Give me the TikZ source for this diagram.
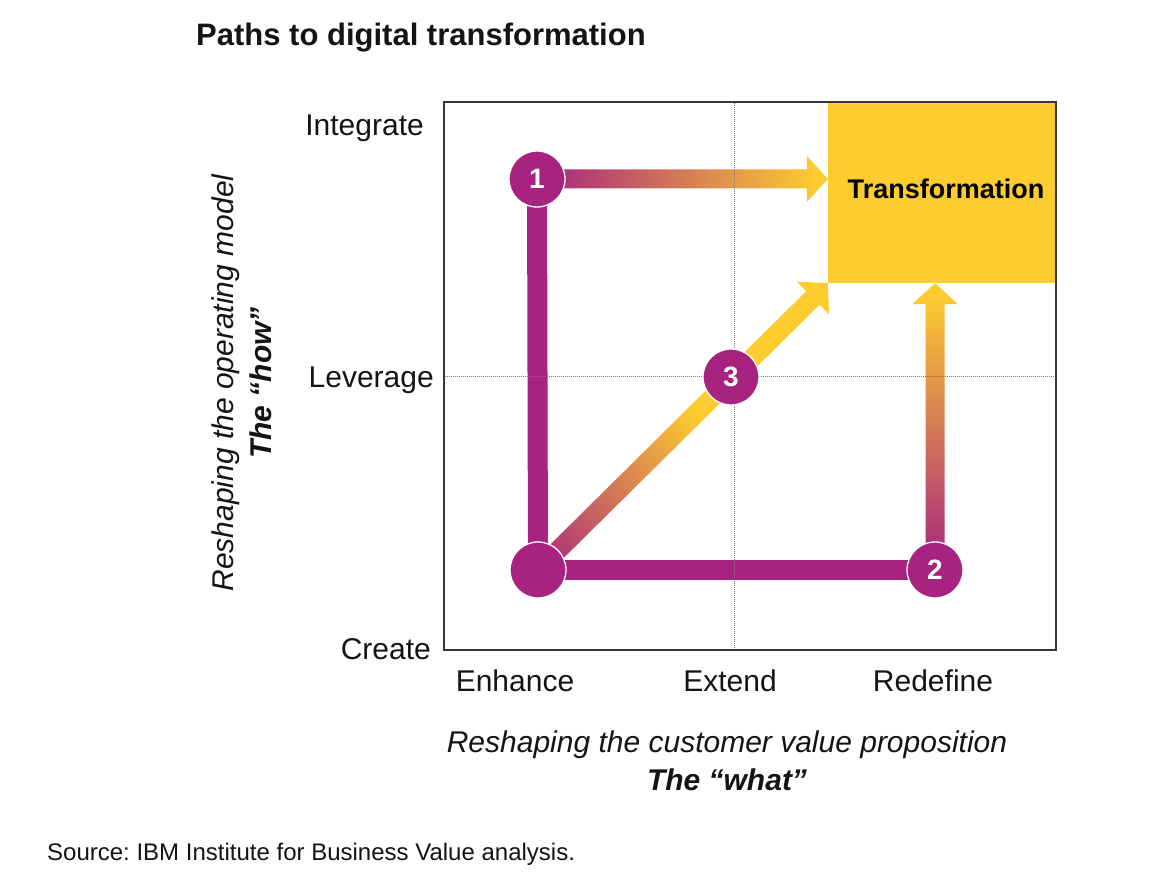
\documentclass[tikz,border=0pt]{standalone}
\usepackage{fontspec}
\setmainfont{Liberation Sans}
\usetikzlibrary{calc}
\definecolor{ibmpurple}{RGB}{168,34,128}
\definecolor{ibmyellow}{RGB}{254,204,47}
\definecolor{framegray}{RGB}{55,55,55}
\definecolor{gridgray}{RGB}{120,120,120}
\pgfdeclarehorizontalshading{gradh}{100bp}{color(0bp)=(ibmpurple); color(25bp)=(ibmpurple); color(73bp)=(ibmyellow); color(100bp)=(ibmyellow)}
\pgfdeclareverticalshading{gradv}{100bp}{color(0bp)=(ibmpurple); color(25bp)=(ibmpurple); color(73bp)=(ibmyellow); color(100bp)=(ibmyellow)}
\pgfdeclarehorizontalshading{gradd}{100bp}{color(0bp)=(ibmpurple); color(15bp)=(ibmpurple); color(54bp)=(ibmyellow); color(100bp)=(ibmyellow)}
\newcommand\fsz[1]{\fontsize{#1pt}{#1pt}\selectfont}
\newcommand\gradarrow[4]{%
  \coordinate (hb) at ($(#2)!21pt!(#1)$);
  \shade[shading=#3, shading angle=#4]
    ($(#1)!9.5pt!90:(#2)$) -- ($(hb)!9.5pt!90:(#2)$) -- ($(hb)!23pt!90:(#2)$) -- (#2)
    -- ($(hb)!23pt!-90:(#2)$) -- ($(hb)!9.5pt!-90:(#2)$) -- ($(#1)!9.5pt!-90:(#2)$) -- cycle;}
\pgfdeclarelayer{back}
\pgfdeclarelayer{mid}
\pgfsetlayers{back,mid,main}
\frenchspacing
\begin{document}
\begin{tikzpicture}[x=1pt,y=-1pt,
  lbl/.style={inner sep=0pt, font=\fsz{30}, text=black!92},
  num/.style={circle, fill=ibmpurple, draw=white, line width=1.3pt, minimum size=56pt, inner sep=0pt, text=white, font=\fsz{28}\bfseries},
  bar/.style={draw=ibmpurple, line width=20pt},
  gridline/.style={draw=gridgray, line width=1pt, dash pattern=on 1pt off 1pt},
  tbox/.style={fill=ibmyellow, minimum width=228pt, minimum height=181pt, inner sep=0pt, text depth=7pt, font=\fsz{27}\bfseries, text=black},
  framebox/.style={draw=framegray, line width=1.6pt, minimum width=612pt, minimum height=548pt, inner sep=0pt}]
\begin{pgfonlayer}{back}
  \fill[white] (0,0) rectangle (1160,888);
  \node[tbox] (T) at (942,192.5) {\hspace*{8pt}Transformation};
\end{pgfonlayer}
\useasboundingbox (0,0) rectangle (1160,888);

% frame
\node[framebox] (F) at (750,376) {};

% circles
\node[num] (c1) at (537,179) {1};
\node[num] (c0) at (538,570) {};
\node[num] (c2) at (935,570) {2};
\node[num] (c3) at (731,377) {3};

% arrow tips
\coordinate (t1) at (T.west |- c1);
\coordinate (t2) at (T.south -| c2);
\coordinate (t3) at (T.south west);

\begin{pgfonlayer}{mid}
  \draw[bar] (c1.center) -- (c0.center);
  \draw[bar] (c0.center) -- (c2.center);
  \gradarrow{c1.center}{t1}{gradh}{0}
  \gradarrow{c2.center}{t2}{gradv}{0}
  \gradarrow{c0.center}{t3}{gradd}{45}
  \draw[gridline] (F.west) -- (F.east);
  \draw[gridline] ($(F.north west)!0.475!(F.north east)$) -- ($(F.south west)!0.475!(F.south east)$);
\end{pgfonlayer}

% texts
\node[lbl, anchor=base west, font=\fsz{31}\bfseries] (title) at (196,46) {Paths to digital transformation};
\node[lbl, anchor=base east] (yI) at (424,136) {Integrate};
\node[lbl, anchor=base east] (yL) at (434,387) {Leverage};
\node[lbl, anchor=base east] (yC) at (431,659) {Create};
\node[lbl, anchor=base] (xE) at (515,691) {Enhance};
\node[lbl, anchor=base] (xX) at (730,691) {Extend};
\node[lbl, anchor=base] (xR) at (933,691) {Redefine};
\node[lbl, anchor=base, font=\fsz{30}\itshape] (xt) at (727,752) {Reshaping the customer value proposition};
\node[lbl, anchor=base, font=\fsz{30}\bfseries\itshape] (xw) at (727,790) {The “what”};
\node[lbl, anchor=base, rotate=90, font=\fsz{30}\itshape] (yt) at (233,383) {Reshaping the operating model};
\node[lbl, anchor=base, rotate=90, font=\fsz{30}\bfseries\itshape] (yw) at (271,383) {The “how”};
\node[lbl, anchor=base west, font=\fsz{24}] (src) at (47,860) {Source: IBM Institute for Business Value analysis.};
\end{tikzpicture}
\end{document}
